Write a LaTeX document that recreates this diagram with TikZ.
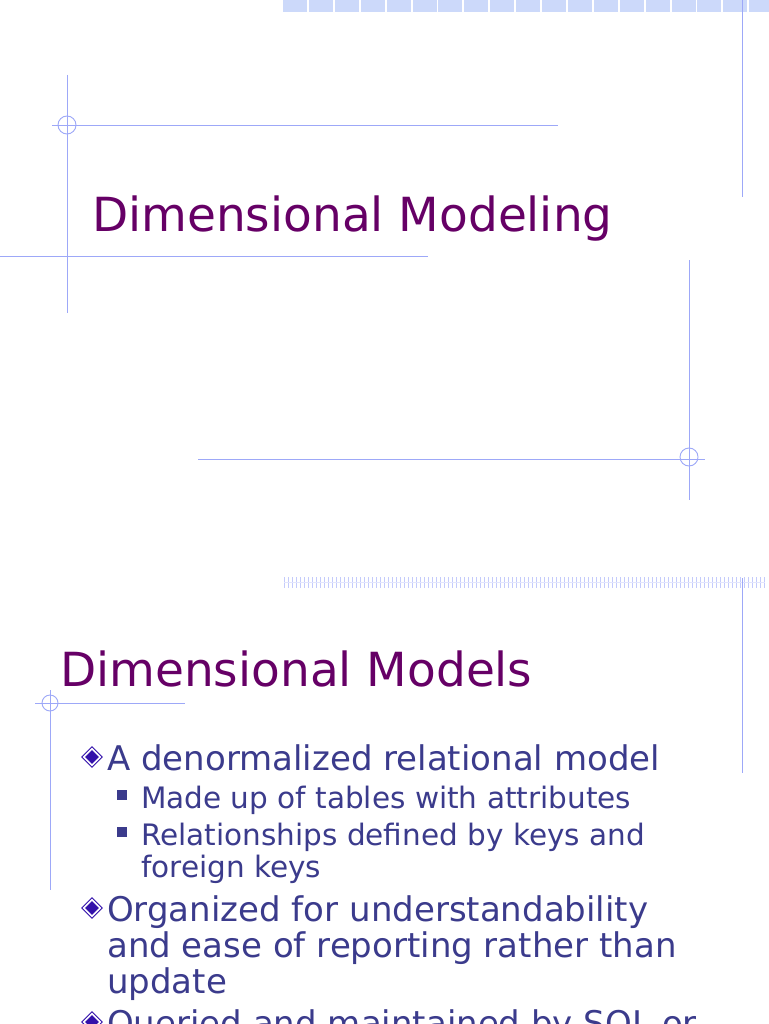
\documentclass[tikz,border=0pt]{standalone}
\usepackage{fontspec}
\setmainfont{DejaVu Sans}
\usetikzlibrary{shapes.geometric}
\definecolor{ln}{HTML}{9DA8F8}
\definecolor{sq}{HTML}{CCD9FA}
\definecolor{ttl}{HTML}{660066}
\definecolor{bd}{HTML}{3B3B8C}
\definecolor{dia}{HTML}{3311AA}
\begin{document}
\begin{tikzpicture}[x=1pt,y=-1pt,
  deco/.style={draw=ln,line width=0.9pt},
  title/.style={anchor=base west,inner sep=0,text=ttl,font=\fontsize{47}{50}\selectfont},
  lvone/.style={anchor=base west,inner sep=0,text=bd,font=\fontsize{34}{36}\selectfont},
  lvtwo/.style={anchor=base west,inner sep=0,text=bd,font=\fontsize{29.5}{30}\selectfont},
  diam/.style={diamond,draw=dia,fill=dia,double=white,double distance=1.5pt,line width=1pt,minimum width=17pt,minimum height=17pt,inner sep=0},
  sqb/.style={fill=bd,minimum size=10pt,inner sep=0}]
\useasboundingbox (0,0) rectangle (768,1024);
\fill[white] (0,0) rectangle (768,1024);
% top squares bar
\foreach \i in {0,...,18} {\fill[sq] (282+\i*25.9+1,0) rectangle (282+\i*25.9+25,12);}
% slide 1 lines
\draw[deco] (67,75) -- (67,313);
\draw[deco] (52,125) -- (558,125);
\draw[deco] (67,125) circle (9);
\draw[deco] (0,256) -- (428,256);
\draw[deco] (742,0) -- (742,197);
\draw[deco] (689,260) -- (689,500);
\draw[deco] (198,459) -- (705,459);
\draw[deco] (689,457) circle (9);
\node[title] (t1) at (92,232) {Dimensional Modeling};
% dashed band
\foreach \i in {0,...,120} {\draw[ln!60,line width=0.6pt] (284+\i*4,577) -- (284+\i*4,588);}
\draw[ln!30,line width=0.4pt] (284,582) -- (765,582);
% slide 2 lines
\draw[deco] (742,578) -- (742,773);
\draw[deco] (35,703) -- (185,703);
\draw[deco] (50,690) -- (50,890);
\draw[deco] (50,703) circle (8);
\node[title] (t2) at (60,686) {Dimensional Models};
\node[diam] (d1) at (92,757) {};
\node[lvone] (b1) at (107,770) {A denormalized relational model};
\node[sqb] (s1) at (122,795) {};
\node[lvtwo] (b11) at (141,808) {Made up of tables with attributes};
\node[sqb] (s2) at (122,832) {};
\node[lvtwo] (b12) at (141,845) {Relationships defined by keys and};
\node[lvtwo] (b13) at (141,877) {foreign keys};
\node[diam] (d2) at (92,908) {};
\node[lvone] (b2) at (107,921) {Organized for understandability};
\node[lvone] (b3) at (107,957) {and ease of reporting rather than};
\node[lvone] (b4) at (107,993) {update};
\node[diam] (d3) at (92,1022) {};
\node[lvone] (b5) at (107,1035) {Queried and maintained by SQL or};
\end{tikzpicture}
\end{document}
